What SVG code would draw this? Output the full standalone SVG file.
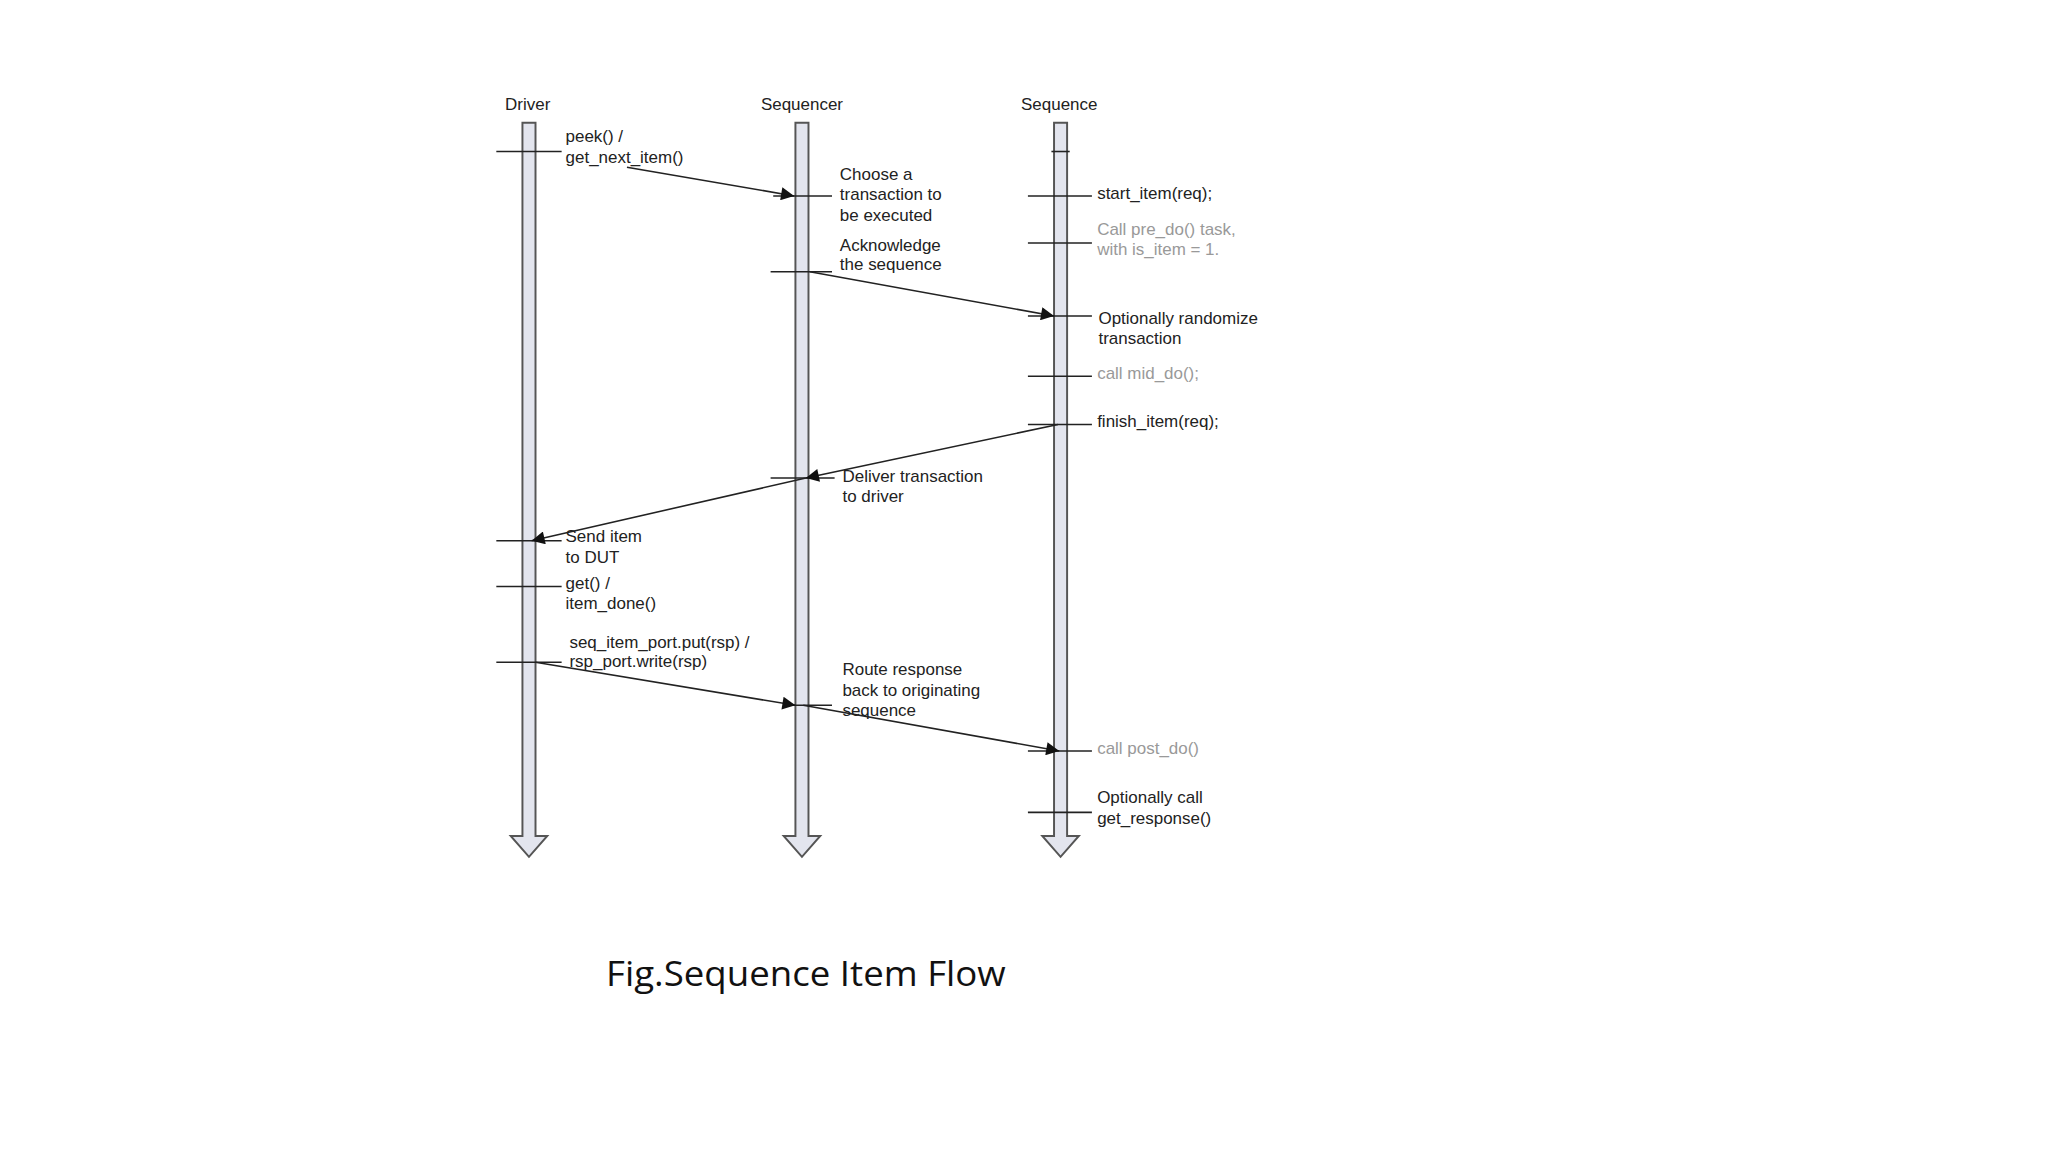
<svg xmlns="http://www.w3.org/2000/svg" width="2048" height="1152" viewBox="0 0 2048 1152">
<style>
.t{font-family:"Liberation Sans",Arial,sans-serif;font-size:13px;fill:#222}
.g{font-family:"Liberation Sans",Arial,sans-serif;font-size:13px;fill:#999}
.life{fill:#e3e5ee;stroke:#555;stroke-width:1.5}
.tick{stroke:#222;stroke-width:1.2}
.msg{stroke:#222;stroke-width:1.2;fill:none;marker-end:url(#ah)}
</style>
<defs>
<marker id="ah" viewBox="0 0 10 10" refX="10" refY="5" markerWidth="14" markerHeight="10" markerUnits="userSpaceOnUse" orient="auto">
<path d="M0,0 L10,5 L0,10 z" fill="#111"/>
</marker>
</defs>
<rect width="2048" height="1152" fill="#fff"/>
<g transform="scale(1.30612)">
<g id="driver">
<text class="t" x="404" y="84" text-anchor="middle">Driver</text>
<polygon class="life" points="400,94 410,94 410,640 419,640 405,656 391,640 400,640"/>
</g>
<g id="sequencer">
<text class="t" x="614" y="84" text-anchor="middle">Sequencer</text>
<polygon class="life" points="609,94 619,94 619,640 628,640 614,656 600,640 609,640"/>
</g>
<g id="sequence">
<text class="t" x="811" y="84" text-anchor="middle">Sequence</text>
<polygon class="life" points="807,94 817,94 817,640 826,640 812,656 798,640 807,640"/>
</g>
<g id="connectors">
<line class="tick" x1="380" y1="116" x2="430" y2="116"/>
<line class="tick" x1="805" y1="116" x2="819" y2="116"/>
<line class="tick" x1="592" y1="150" x2="637" y2="150"/>
<line class="tick" x1="787" y1="150" x2="836" y2="150"/>
<line class="tick" x1="787" y1="186" x2="836" y2="186"/>
<line class="tick" x1="590" y1="208" x2="637" y2="208"/>
<line class="tick" x1="787" y1="242" x2="836" y2="242"/>
<line class="tick" x1="787" y1="288" x2="836" y2="288"/>
<line class="tick" x1="787" y1="325" x2="836" y2="325"/>
<line class="tick" x1="590" y1="366" x2="639" y2="366"/>
<line class="tick" x1="380" y1="414" x2="430" y2="414"/>
<line class="tick" x1="380" y1="449" x2="430" y2="449"/>
<line class="tick" x1="380" y1="507" x2="430" y2="507"/>
<line class="tick" x1="600" y1="540" x2="637" y2="540"/>
<line class="tick" x1="787" y1="575" x2="836" y2="575"/>
<line class="tick" x1="787" y1="622" x2="836" y2="622"/>
<line class="msg" x1="480" y1="128" x2="608" y2="150"/>
<line class="msg" x1="620" y1="208" x2="807" y2="242"/>
<line class="msg" x1="810" y1="325" x2="617" y2="366"/>
<line class="msg" x1="617" y1="366" x2="407" y2="414"/>
<line class="msg" x1="410" y1="507" x2="609" y2="540"/>
<line class="msg" x1="615" y1="540" x2="811" y2="575"/>
</g>
<g id="labels">
<text class="t" x="433" y="109">peek() /</text>
<text class="t" x="433" y="125">get_next_item()</text>
<text class="t" x="643" y="138">Choose a</text>
<text class="t" x="643" y="153">transaction to</text>
<text class="t" x="643" y="169">be executed</text>
<text class="t" x="643" y="192">Acknowledge</text>
<text class="t" x="643" y="207">the sequence</text>
<text class="t" x="840" y="152">start_item(req);</text>
<text class="g" x="840" y="180">Call pre_do() task,</text>
<text class="g" x="840" y="195">with is_item = 1.</text>
<text class="t" x="841" y="248">Optionally randomize</text>
<text class="t" x="841" y="263">transaction</text>
<text class="g" x="840" y="290">call mid_do();</text>
<text class="t" x="840" y="327">finish_item(req);</text>
<text class="t" x="645" y="369">Deliver transaction</text>
<text class="t" x="645" y="384">to driver</text>
<text class="t" x="433" y="415">Send item</text>
<text class="t" x="433" y="431">to DUT</text>
<text class="t" x="433" y="451">get() /</text>
<text class="t" x="433" y="466">item_done()</text>
<text class="t" x="436" y="496">seq_item_port.put(rsp) /</text>
<text class="t" x="436" y="511">rsp_port.write(rsp)</text>
<text class="t" x="645" y="517">Route response</text>
<text class="t" x="645" y="533">back to originating</text>
<text class="t" x="645" y="548">sequence</text>
<text class="g" x="840" y="577">call post_do()</text>
<text class="t" x="840" y="615">Optionally call</text>
<text class="t" x="840" y="631">get_response()</text>
</g>
<text x="464" y="755" font-family="'Open Sans',sans-serif" font-size="27" fill="#111" textLength="306" lengthAdjust="spacingAndGlyphs">Fig.Sequence Item Flow</text>
</g>
</svg>
